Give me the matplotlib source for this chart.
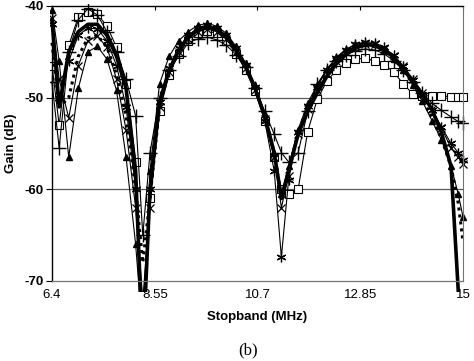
import numpy as np
import matplotlib
matplotlib.use("Agg")
import matplotlib.pyplot as plt
from matplotlib.patches import Rectangle

plt.rcParams['font.family'] = ['Liberation Sans', 'DejaVu Sans']
plt.rcParams['axes.unicode_minus'] = False

# frequency points (MHz)
freq = [6.4, 6.55, 6.75, 6.95, 7.15, 7.35, 7.55, 7.75, 7.95, 8.15, 8.3, 8.45,
        8.65, 8.85, 9.05, 9.25, 9.45, 9.65, 9.85, 10.05, 10.25, 10.45, 10.65,
        10.85, 11.05, 11.2, 11.35, 11.55, 11.75, 11.95, 12.15, 12.35, 12.55,
        12.75, 12.95, 13.15, 13.35, 13.55, 13.75, 13.95, 14.15, 14.35, 14.55,
        14.75, 14.9, 15.0]

# gain readings (dB) for each trace
gain_thick = [-41.5, -51, -45, -42.8, -42, -42, -43.2, -45.5, -49, -58, -78, -60,
              -50.5, -47, -44.8, -43.4, -42.6, -42.3, -42.6, -43.4, -44.8, -46.6, -49,
              -52, -56, -61, -58, -54, -51.5, -49.5, -47.7, -46.3, -45.3,
              -44.6, -44.2, -44.3, -44.8, -45.6, -46.8, -48.2, -49.6, -51.3, -53.8,
              -57.5, -71, -80]
gain_dotted = [-44, -51, -50, -45.5, -43.5, -43.2, -44.5, -47.5, -52, -60, -68, -61,
               -51, -47, -44.8, -43.4, -42.6, -42.3, -42.6, -43.4, -44.8, -46.6, -49,
               -52, -56, -61, -58, -53.8, -51, -49, -47.3, -46, -45,
               -44.4, -44.2, -44.3, -44.9, -45.8, -47, -48.5, -50.2, -52.2, -54.5,
               -57.5, -61.5, -65.7]
gain_square = [-46.5, -53, -44.3, -41.2, -40.7, -40.9, -42.2, -44.5, -48.5, -57, -75, -61,
               -51.5, -47.5, -45.2, -43.8, -43, -42.7, -43, -43.8, -45.2, -47, -49.3,
               -52.5, -56.5, -60, -60.5, -60, -53.7, -50.2, -48.2, -47, -46.2,
               -45.8, -45.7, -46, -46.4, -47.2, -48.5, -49.6, -49.8, -49.8, -49.8,
               -49.9, -49.9, -49.9]
gain_plus = [-48.3, -55.5, -45, -41.5, -40.3, -41, -42.8, -45, -48, -52, -65, -56,
             -50, -47, -45.5, -44, -43.6, -43.4, -43.7, -44.3, -45.3, -46.7, -49,
             -51.5, -54, -56, -57, -56, -51.5, -48.5, -47, -46, -45.3,
             -44.9, -44.7, -44.8, -45.2, -46, -47, -48.3, -49.5, -50.6, -51.4,
             -52.1, -52.6, -52.8]
gain_cross = [-41.3, -48, -52.2, -46.5, -43.8, -43.3, -44.5, -48, -53.5, -62, -72, -62,
              -51, -47.2, -45, -43.6, -42.8, -42.5, -42.8, -43.6, -45, -46.8, -49.2,
              -52.3, -56.5, -62, -58.5, -54, -51.2, -49.2, -47.4, -46, -45,
              -44.4, -44.1, -44.2, -44.7, -45.5, -46.6, -48, -49.5, -51.2, -53.3,
              -55.5, -56.5, -57.2]
gain_tri = [-40.4, -46, -56.5, -49, -45, -44.4, -45.8, -49.2, -56.5, -66, -76, -58,
            -48.5, -45.5, -43.8, -42.8, -42.1, -41.9, -42.2, -43, -44.4, -46.2, -48.6,
            -51.8, -56, -60.5, -57.5, -53.5, -50.6, -48.6, -46.9, -45.6, -44.7,
            -44.2, -44, -44.2, -44.8, -45.8, -47, -48.6, -50.4, -52.5, -54.6,
            -57.5, -60.5, -63]
gain_star = [-42, -50, -46, -43.2, -42.4, -42.5, -43.8, -46.5, -51, -60, -74, -60,
             -50.5, -46.8, -44.6, -43.2, -42.4, -42.1, -42.4, -43.2, -44.6, -46.4, -48.8,
             -52.5, -58, -67.4, -59, -53.8, -50.9, -48.8, -47, -45.7, -44.8,
             -44.2, -43.9, -44, -44.5, -45.4, -46.6, -48.1, -49.7, -51.3, -53.2,
             -55, -56, -56.8]

x_ticks = [6.4, 8.55, 10.7, 12.85, 15]
x_ticklabels = ['6.4', '8.55', '10.7', '12.85', '15']
y_ticks = [-70, -60, -50, -40]

fig = plt.figure(figsize=(4.74, 3.61), dpi=100)
ax = fig.add_axes([52 / 474, 80 / 361, 411 / 474, 275 / 361])

# let the traces run a little below the bottom frame, like the scan
clip = Rectangle((6.35, -71.2), 8.75, 31.4, transform=ax.transData,
                 visible=False)
ax.add_patch(clip)

lines = []
lines += ax.plot(freq, gain_square, color='black', lw=0.8, marker='s',
                 ms=5.5, mfc='white', mec='black', mew=0.8)
lines += ax.plot(freq, gain_plus, color='black', lw=0.8, marker='+',
                 ms=10, mew=1.0)
lines += ax.plot(freq, gain_cross, color='black', lw=0.8, marker='x',
                 ms=5.5, mew=0.9)
lines += ax.plot(freq, gain_tri, color='black', lw=0.8, marker='^',
                 ms=4, mfc='black', mec='black')
lines += ax.plot(freq, gain_star, color='black', lw=0.8, marker=(6, 2, 0),
                 ms=7, mew=0.9)
lines += ax.plot(freq, gain_dotted, color='black', lw=2.2, ls=(0, (1, 1.3)))
lines += ax.plot(freq, gain_thick, color='black', lw=2.6)
for ln in lines:
    ln.set_clip_path(clip)

ax.set_xlim(6.4, 15)
ax.set_ylim(-70, -40)
ax.set_xticks(x_ticks)
ax.set_xticklabels(x_ticklabels, fontsize=9.5)
ax.set_yticks(y_ticks)
ax.set_yticklabels([str(v) for v in y_ticks], fontsize=9.5, fontweight='bold')

ax.axhline(-50, color='0.35', lw=0.9, zorder=0)
ax.axhline(-60, color='0.35', lw=0.9, zorder=0)

ax.tick_params(axis='y', direction='out', length=4, width=0.8, pad=2)
ax.tick_params(axis='x', direction='in', length=3, width=0.8, pad=6,
               top=True, bottom=False)

ax.spines['left'].set_linewidth(1.0)
ax.spines['top'].set_linewidth(1.0)
ax.spines['bottom'].set_color('0.45')
ax.spines['bottom'].set_linewidth(0.9)
ax.spines['bottom'].set_linestyle((0, (3, 1)))
ax.spines['right'].set_color('0.45')
ax.spines['right'].set_linewidth(0.8)

ax.set_ylabel('Gain (dB)', fontsize=9.5, fontweight='bold', labelpad=5)
ax.set_xlabel('Stopband (MHz)', fontsize=9.5, fontweight='bold', labelpad=7)

fig.text(248 / 474, 1 - 350 / 361, '(b)', ha='center', va='center',
         fontsize=12, family='Liberation Serif')

fig.savefig('out.png', dpi=100)
